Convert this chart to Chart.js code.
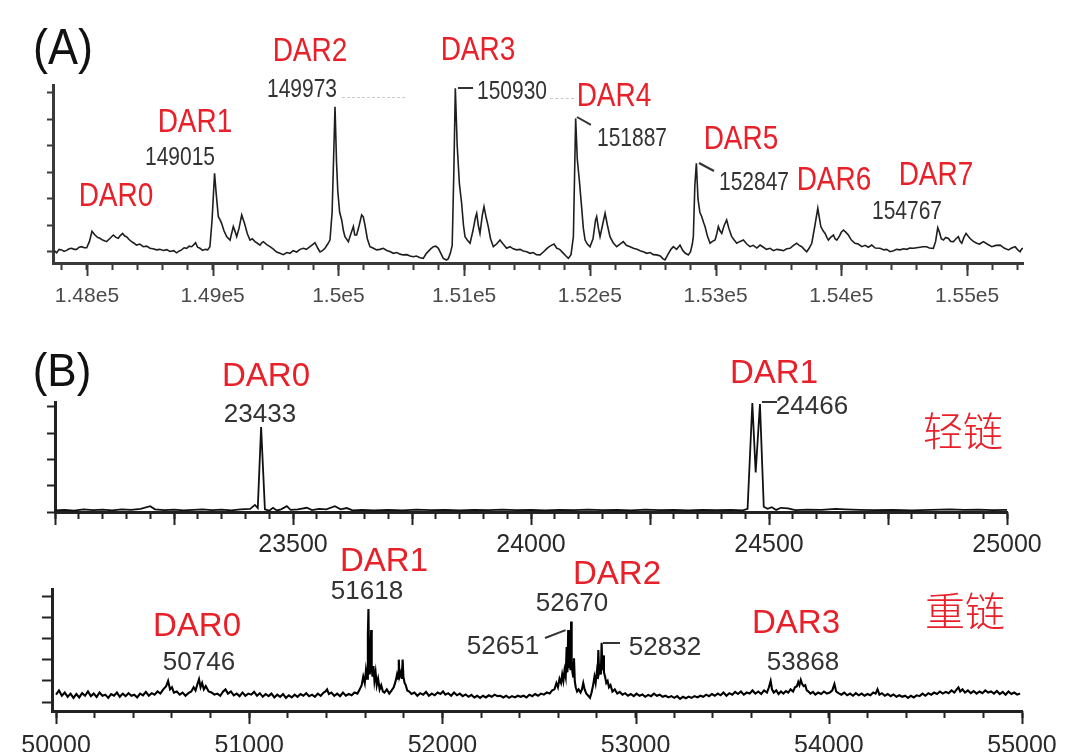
<!DOCTYPE html>
<html>
<head>
<meta charset="utf-8">
<script src="https://cdn.jsdelivr.net/npm/chart.js@4.4.1/dist/chart.umd.min.js"></script>
<style>
  html, body { margin: 0; padding: 0; background: #fff; }
  #page { position: relative; width: 1080px; height: 752px; overflow: hidden; background: #fff; }
  canvas { position: absolute; left: 0; }
  .lbl { position: absolute; white-space: nowrap; font-family: "Liberation Sans", Arial, sans-serif; line-height: 1; }
  .red { color: #e8202a; }
  .num { color: #333; }
  .blk { color: #111; }
  .cjk { font-family: "Noto Sans CJK SC", sans-serif; color: #e8202a; font-weight: 300; }
  .lead { position: absolute; height: 2px; background: #333; transform-origin: 0 50%; }
  .dash { position: absolute; border-top: 1px dashed #c8c8c8; height: 0; }
</style>
</head>
<body>
<div id="page">
  <canvas id="chartA" width="1080" height="320" style="top:0"></canvas>
  <canvas id="chartL" width="1080" height="230" style="top:330px"></canvas>
  <canvas id="chartH" width="1080" height="192" style="top:560px"></canvas>
</div>
<script>
// (A) intact ADC, deconvoluted mass (Da) vs intensity
const aMass = [147740,147759,147779,147799,147818,147838,147858,147878,147898,147918,147938,147958,147978,147998,
  148020,148040,148064,148084,148103,148125,148156,148180,148210,148230,148249,148265,148284,148300,148315,148335,
  148355,148375,148395,148420,148448,148475,148501,148525,148554,148580,148607,148635,148660,148690,148713,148735,
  148753,148773,148793,148813,148833,148850,148864,148880,148899,148920,148940,148960,148978,148995,149015,149028,
  149045,149060,149071,149090,149111,149138,149164,149180,149191,149210,149231,149245,149257,149275,149297,149315,
  149336,149356,149376,149390,149403,149430,149456,149480,149509,149535,149562,149590,149615,149640,149668,149695,
  149721,149745,149774,149795,149814,149835,149854,149873,149893,149915,149933,149950,149973,149985,149995,150010,
  150026,150040,150052,150079,150100,150119,150130,150145,150165,150185,150198,150211,150230,150251,150275,150304,
  150330,150357,150385,150410,150437,150465,150490,150516,150545,150570,150596,150620,150650,150675,150700,150730,
  150755,150775,150795,150815,150834,150860,150874,150890,150905,150918,150930,150945,150962,150980,150995,151007,
  151025,151047,151070,151090,151100,151113,151126,151145,151158,151175,151192,151210,151232,151258,151285,151310,
  151338,151365,151390,151418,151445,151470,151498,151525,151550,151575,151604,151630,151655,151677,151697,151715,
  151737,151760,151790,151810,151829,151850,151869,151887,151900,151916,151934,151948,151962,151980,152001,152025,
  152045,152054,152068,152081,152100,152121,152140,152160,152185,152213,152240,152266,152290,152320,152346,152375,
  152400,152430,152452,152480,152505,152532,152560,152580,152598,152620,152645,152664,152690,152717,152740,152760,
  152783,152800,152815,152823,152835,152847,152860,152875,152890,152905,152916,152935,152956,152975,152996,153010,
  153022,153035,153049,153068,153088,153105,153128,153148,153168,153195,153221,153248,153274,153300,153328,153354,
  153380,153405,153433,153460,153487,153513,153540,153566,153592,153620,153645,153665,153685,153705,153725,153745,
  153765,153790,153813,153825,153837,153855,153871,153885,153897,153915,153937,153950,153964,153985,154000,154017,
  154035,154056,154080,154109,154135,154163,154190,154215,154242,154270,154308,154340,154360,154388,154415,154440,
  154467,154495,154520,154545,154573,154600,154625,154650,154679,154700,154732,154750,154767,154780,154795,154812,
  154830,154852,154870,154892,154912,154931,154945,154958,154975,154992,155008,155024,155050,155077,155100,155130,
  155160,155197,155230,155263,155295,155329,155355,155382,155400,155422,155435,155445];
const aInt = [0.05,-0.03,0.1,0.08,0.02,0.06,0.12,0.14,0.1,0.1,0.18,0.2,0.16,0.16,
  0.4,0.78,0.64,0.55,0.52,0.45,0.39,0.5,0.64,0.55,0.52,0.62,0.7,0.6,0.58,0.47,
  0.39,0.33,0.26,0.3,0.2,0.22,0.14,0.12,0.08,0.1,0.06,0.09,0.02,0.05,-0.03,0.04,
  0.08,0.16,0.14,0.22,0.2,0.28,0.35,0.18,0.14,0.06,0.1,0.08,0.2,1.2,2.97,2.2,
  1.33,1.2,1.08,0.8,0.58,0.45,0.96,0.75,0.58,0.9,1.4,1.2,1.02,0.7,0.45,0.5,
  0.39,0.33,0.26,0.35,0.39,0.28,0.2,0.12,0.0,-0.05,-0.1,-0.02,-0.05,0.05,0.0,0.1,
  0.14,0.1,0.2,0.28,0.35,0.15,0.0,0.05,0.14,0.3,0.45,1.5,5.48,3.4,2.3,1.5,
  1.21,0.8,0.58,0.39,0.7,0.96,0.64,0.64,1.0,1.4,1.33,1.02,0.5,0.2,0.15,0.08,
  0.1,0.14,0.06,0.02,-0.05,-0.02,-0.08,-0.11,-0.1,-0.15,-0.18,-0.15,-0.22,-0.24,-0.05,0.1,
  0.2,0.22,0.14,-0.05,-0.24,-0.3,-0.25,-0.05,0.25,3.0,6.18,4.0,2.59,1.84,1.0,0.58,
  0.45,0.33,0.8,1.3,1.46,1.0,0.7,1.4,1.71,1.3,0.96,0.5,0.2,0.3,0.45,0.3,
  0.14,0.2,0.12,0.08,0.1,0.04,0.01,-0.05,-0.02,-0.1,-0.11,0.0,0.12,0.2,0.26,0.3,
  0.14,0.1,-0.05,-0.15,-0.24,-0.1,0.58,5.04,3.5,2.72,1.71,0.9,0.45,0.3,0.2,0.5,
  1.2,1.33,0.9,0.58,1.0,1.46,1.0,0.58,0.35,0.2,0.3,0.39,0.25,0.2,0.14,0.1,
  0.05,0.0,-0.05,-0.02,-0.1,-0.11,-0.15,-0.25,-0.3,-0.1,0.1,0.2,0.1,0.26,0.05,-0.05,
  -0.11,0.0,0.3,0.58,2.5,3.35,2.0,1.5,1.33,1.1,0.96,0.6,0.33,0.4,0.45,0.7,
  0.96,0.8,0.7,1.0,1.21,0.9,0.58,0.45,0.33,0.4,0.45,0.3,0.2,0.25,0.15,0.26,
  0.18,0.1,0.14,0.05,0.1,0.08,0.05,0.12,0.14,0.25,0.33,0.25,0.2,0.1,0.01,0.15,
  0.33,1.0,1.65,1.3,0.96,0.8,0.7,0.55,0.45,0.55,0.64,0.5,0.45,0.6,0.75,0.83,
  0.75,0.64,0.45,0.33,0.3,0.2,0.25,0.18,0.26,0.15,0.14,0.08,0.1,0.01,0.05,0.1,
  0.08,0.12,0.1,0.15,0.14,0.16,0.18,0.2,0.2,0.15,0.14,0.4,0.92,0.75,0.5,0.45,
  0.55,0.51,0.4,0.39,0.5,0.58,0.4,0.33,0.55,0.7,0.6,0.51,0.4,0.33,0.3,0.39,
  0.3,0.2,0.25,0.26,0.15,0.08,0.15,0.2,0.1,0.01,0.12,0.14];

// (B) light chain
const lcMass = [23000,23020,23040,23060,23080,23100,23120,23140,23160,23180,23200,23210,23230,23250,23270,23290,
  23310,23330,23350,23370,23390,23410,23420,23426,23433,23441,23450,23458,23466,23475,23487,23495,
  23510,23529,23540,23555,23570,23588,23600,23613,23625,23645,23670,23700,23730,23760,23790,23820,
  23850,23880,23910,23940,23970,24000,24030,24060,24090,24120,24150,24180,24210,24240,24270,24300,
  24330,24360,24390,24420,24445,24455,24465,24472,24481,24489,24497,24506,24515,24525,24540,24555,
  24580,24610,24640,24660,24690,24720,24760,24800,24840,24880,24910,24940,24970,25000];
const lcInt = [0.06,0.08,0.05,0.1,0.07,0.09,0.06,0.1,0.08,0.12,0.22,0.1,0.07,0.09,0.06,0.08,
  0.1,0.07,0.09,0.06,0.1,0.12,0.27,0.15,3.23,0.1,0.05,0.16,0.06,0.1,0.22,0.08,
  0.1,0.16,0.07,0.12,0.1,0.22,0.1,0.15,0.06,0.08,0.06,0.08,0.06,0.09,0.07,0.08,
  0.06,0.08,0.07,0.09,0.07,0.08,0.06,0.08,0.07,0.09,0.07,0.08,0.06,0.09,0.07,0.08,
  0.06,0.08,0.07,0.08,0.06,0.12,4.14,1.5,4.1,0.2,0.12,0.18,0.08,0.16,0.14,0.07,
  0.09,0.08,0.12,0.1,0.08,0.07,0.08,0.06,0.08,0.1,0.08,0.09,0.07,0.08];

// (B) heavy chain
const hcMass = [50000,50015,50030,50045,50060,50075,50090,50105,50120,50135,50150,50165,50180,50195,50210,50225,
  50240,50255,50270,50285,50300,50315,50330,50345,50360,50375,50390,50405,50420,50435,50450,50465,
  50480,50495,50510,50525,50540,50555,50570,50580,50590,50600,50610,50625,50640,50655,50670,50685,
  50700,50712,50722,50732,50740,50748,50756,50765,50775,50790,50805,50820,50835,50850,50865,50877,
  50890,50905,50920,50935,50950,50965,50980,50995,51010,51025,51040,51055,51070,51085,51100,51115,
  51130,51145,51160,51175,51190,51205,51220,51235,51250,51265,51280,51295,51310,51325,51340,51355,
  51370,51385,51395,51403,51412,51425,51440,51455,51470,51485,51500,51515,51530,51545,51560,51572,
  51582,51590,51598,51604,51610,51614,51617,51620,51624,51628,51631,51634,51638,51643,51648,51654,
  51660,51667,51675,51683,51692,51700,51712,51725,51737,51748,51758,51765,51770,51774,51778,51785,
  51790,51794,51798,51804,51810,51818,51828,51840,51855,51870,51885,51900,51915,51930,51945,51960,
  51975,51990,52003,52015,52030,52045,52060,52075,52090,52105,52120,52135,52150,52165,52180,52195,
  52210,52225,52240,52255,52270,52285,52300,52315,52330,52345,52360,52375,52390,52405,52420,52435,
  52450,52465,52480,52495,52510,52525,52540,52555,52568,52580,52590,52598,52606,52614,52620,52626,
  52632,52638,52643,52647,52651,52655,52660,52663,52666,52669,52673,52677,52681,52685,52690,52697,
  52705,52715,52722,52729,52736,52745,52755,52764,52772,52780,52787,52793,52799,52803,52807,52811,
  52816,52820,52824,52828,52832,52836,52842,52848,52855,52862,52870,52880,52892,52905,52918,52932,
  52946,52960,52975,52990,53005,53020,53035,53050,53065,53080,53095,53110,53125,53140,53155,53170,
  53185,53200,53215,53230,53245,53260,53275,53290,53305,53320,53335,53350,53365,53380,53395,53410,
  53425,53440,53455,53470,53485,53500,53515,53530,53545,53560,53575,53590,53605,53620,53635,53650,
  53665,53680,53690,53699,53706,53715,53728,53740,53752,53765,53778,53790,53802,53815,53825,53835,
  53842,53848,53855,53862,53870,53878,53886,53895,53905,53918,53930,53945,53960,53975,53990,54005,
  54018,54029,54038,54050,54065,54080,54095,54110,54125,54140,54155,54170,54185,54200,54215,54230,
  54242,54252,54262,54275,54290,54305,54320,54335,54350,54365,54380,54395,54410,54425,54440,54455,
  54470,54485,54500,54515,54530,54545,54560,54575,54590,54605,54620,54635,54650,54662,54671,54680,
  54692,54705,54720,54735,54750,54765,54780,54795,54810,54825,54840,54855,54870,54885,54900,54915,
  54930,54945,54960,54975,54990];
const hcInt = [0.35,0.55,0.3,0.45,0.25,0.4,0.2,0.38,0.22,0.42,0.3,0.5,0.28,0.4,0.24,0.45,
  0.3,0.35,0.2,0.38,0.3,0.45,0.25,0.4,0.28,0.42,0.3,0.35,0.22,0.4,0.32,0.48,
  0.3,0.42,0.35,0.5,0.4,0.6,0.75,1.0,0.6,0.7,0.45,0.5,0.35,0.45,0.3,0.42,
  0.5,0.7,0.55,0.85,1.08,0.7,0.9,0.6,0.75,0.5,0.45,0.35,0.4,0.3,0.5,0.6,
  0.4,0.5,0.32,0.4,0.28,0.45,0.3,0.4,0.35,0.48,0.3,0.42,0.25,0.38,0.28,0.4,
  0.22,0.35,0.25,0.38,0.2,0.32,0.22,0.35,0.25,0.38,0.3,0.42,0.28,0.35,0.25,0.4,
  0.3,0.45,0.5,0.6,0.38,0.45,0.3,0.4,0.28,0.45,0.3,0.38,0.32,0.45,0.4,0.6,
  0.8,1.2,0.9,1.5,1.1,3.2,4.39,2.0,1.3,2.3,3.4,1.6,1.2,1.7,1.0,1.4,
  0.8,1.1,0.6,0.8,0.5,0.45,0.6,0.4,0.55,0.7,1.0,1.3,1.1,2.0,1.2,1.4,
  1.1,2.0,1.2,0.9,0.8,0.55,0.5,0.38,0.45,0.3,0.42,0.35,0.48,0.3,0.4,0.32,
  0.45,0.38,0.5,0.35,0.42,0.3,0.45,0.32,0.4,0.28,0.36,0.25,0.34,0.22,0.3,0.2,
  0.3,0.22,0.32,0.25,0.35,0.28,0.3,0.22,0.3,0.2,0.28,0.22,0.3,0.25,0.3,0.22,
  0.35,0.28,0.38,0.3,0.4,0.35,0.45,0.4,0.55,0.6,0.9,0.7,1.1,0.9,1.3,1.0,
  1.5,1.2,2.6,1.4,3.4,1.6,2.0,1.5,3.8,2.0,1.4,1.2,2.07,1.0,0.7,0.5,
  0.6,0.45,0.6,0.9,0.6,0.4,0.3,0.2,0.45,0.8,1.2,0.9,1.4,1.1,2.45,1.4,
  1.6,1.3,2.8,1.5,2.2,1.4,1.2,0.9,1.0,0.7,0.8,0.5,0.6,0.4,0.48,0.35,
  0.42,0.3,0.38,0.28,0.4,0.3,0.36,0.25,0.34,0.28,0.4,0.3,0.35,0.25,0.3,0.22,
  0.28,0.2,0.28,0.15,0.25,0.18,0.26,0.2,0.28,0.22,0.3,0.25,0.35,0.28,0.38,0.3,
  0.4,0.32,0.45,0.3,0.42,0.35,0.48,0.38,0.5,0.35,0.45,0.4,0.55,0.4,0.5,0.38,
  0.55,0.45,0.7,1.0,0.6,0.45,0.55,0.38,0.5,0.4,0.52,0.45,0.6,0.5,0.7,0.75,
  0.95,0.8,1.04,0.85,0.75,0.8,0.55,0.5,0.4,0.48,0.35,0.45,0.38,0.5,0.4,0.45,
  0.55,0.85,0.5,0.42,0.35,0.45,0.32,0.4,0.3,0.42,0.32,0.4,0.3,0.38,0.32,0.45,
  0.4,0.6,0.35,0.42,0.3,0.38,0.28,0.36,0.25,0.32,0.25,0.3,0.2,0.3,0.22,0.32,
  0.28,0.4,0.3,0.42,0.35,0.45,0.38,0.5,0.4,0.48,0.42,0.55,0.45,0.6,0.69,0.5,
  0.6,0.45,0.55,0.42,0.52,0.4,0.5,0.42,0.55,0.45,0.5,0.4,0.52,0.38,0.48,0.35,
  0.5,0.38,0.45,0.35,0.4];

// axis settings
const aYTicks = [0, 1, 2, 3, 4, 5, 6];
const lcYTicks = [0, 1, 2, 3, 4];
const hcYTicks = [0, 1, 2, 3, 4, 5];

// longer tick marks at major positions
const majorTicks = {
  id: 'majorTicks',
  afterDraw(chart, args, opts) {
    const x = chart.scales.x, ctx = chart.ctx;
    const y0 = chart.chartArea.bottom;
    ctx.save();
    ctx.strokeStyle = opts.color;
    ctx.lineWidth = opts.width;
    for (let v = Math.ceil(x.min / opts.step) * opts.step; v <= x.max; v += opts.step) {
      const px = Math.round(x.getPixelForValue(v)) + 0.5;
      ctx.beginPath();
      ctx.moveTo(px, y0);
      ctx.lineTo(px, y0 + opts.len);
      ctx.stroke();
    }
    ctx.restore();
  }
};

function spectrum(id, masses, ints, o) {
  const axisColor = o.axis;
  return new Chart(document.getElementById(id), {
    type: 'line',
    data: {
      datasets: [{
        data: masses.map((m, i) => ({ x: m, y: ints[i] })),
        borderColor: o.line,
        borderWidth: o.lw,
        pointRadius: 0,
        tension: 0,
        fill: false
      }]
    },
    options: {
      responsive: false,
      animation: false,
      devicePixelRatio: 1,
      layout: { padding: { top: o.top, right: o.right, left: 0, bottom: 0 } },
      plugins: {
        legend: { display: false },
        tooltip: { enabled: false },
        majorTicks: { step: o.majorStep, len: o.majorLen, color: axisColor, width: 2 }
      },
      scales: {
        x: {
          type: 'linear',
          min: o.xmin,
          max: o.xmax,
          afterBuildTicks: s => {
            const t = [];
            for (let v = Math.ceil(o.xmin / o.minorStep) * o.minorStep; v <= o.xmax; v += o.minorStep) t.push({ value: v });
            s.ticks = t;
          },
          afterFit: s => { s.height = o.xh; },
          ticks: {
            autoSkip: false,
            maxRotation: 0,
            padding: o.tickPad,
            color: o.tickColor,
            font: { family: 'Liberation Sans', size: o.tickSize },
            callback: v => (v % o.labelStep === 0 && !(o.skipFirst && v === o.xmin) ? o.fmt(v) : '')
          },
          grid: { drawOnChartArea: false, drawTicks: true, tickLength: o.minorLen, tickColor: axisColor, tickWidth: 2 },
          border: { color: axisColor, width: 3 }
        },
        y: {
          min: o.ymin,
          max: o.ymax,
          afterBuildTicks: s => { s.ticks = o.yTicks.map(v => ({ value: v })); },
          afterFit: s => { s.width = o.yw; },
          ticks: { display: false },
          grid: { drawOnChartArea: false, drawTicks: true, tickLength: o.yTickLen, tickColor: axisColor, tickWidth: 2 },
          border: { color: axisColor, width: 3 }
        }
      }
    },
    plugins: [majorTicks]
  });
}

spectrum('chartA', aMass, aInt, {
  xmin: 147730, xmax: 155445, ymin: -0.415, ymax: 6.3, yTicks: aYTicks,
  top: 85, right: 57, yw: 53, xh: 57,
  minorStep: 200, majorStep: 1000, labelStep: 1000, minorLen: 7, majorLen: 13, yTickLen: 6,
  tickPad: 14, tickSize: 21, tickColor: '#4a4a4a',
  fmt: v => parseFloat((v / 1e5).toFixed(2)) + 'e5',
  line: '#1e1e1e', lw: 1.6, axis: '#3a3a3a'
});

spectrum('chartL', lcMass, lcInt, {
  xmin: 23000, xmax: 25000, ymin: 0, ymax: 4.18, yTicks: lcYTicks, skipFirst: true,
  top: 72, right: 73, yw: 55, xh: 48,
  minorStep: 50, majorStep: 250, labelStep: 500, minorLen: 7, majorLen: 13, yTickLen: 8,
  tickPad: 11, tickSize: 25, tickColor: '#2a2a2a',
  fmt: v => String(v),
  line: '#111', lw: 1.8, axis: '#222'
});

spectrum('chartH', hcMass, hcInt, {
  xmin: 49979, xmax: 55000, ymin: -0.42, ymax: 5.33, yTicks: hcYTicks,
  top: 29, right: 58, yw: 52, xh: 41,
  minorStep: 200, majorStep: 1000, labelStep: 1000, minorLen: 7, majorLen: 13, yTickLen: 10,
  tickPad: 13, tickSize: 25, tickColor: '#2a2a2a',
  fmt: v => String(v),
  line: '#000', lw: 2.1, axis: '#222'
});

// annotations
const page = document.getElementById('page');
function label(text, cls, x, y, size, sy) {
  const d = document.createElement('div');
  d.className = 'lbl ' + cls;
  d.textContent = text;
  d.style.left = x + 'px';
  d.style.top = y + 'px';
  d.style.fontSize = size + 'px';
  d.style.transform = 'translate(-50%, -50%) scale(1, ' + (sy || 1) + ')';
  page.appendChild(d);
}
function leader(x1, y1, x2, y2) {
  const d = document.createElement('div');
  d.className = 'lead';
  const len = Math.hypot(x2 - x1, y2 - y1);
  d.style.left = x1 + 'px';
  d.style.top = (y1 - 1) + 'px';
  d.style.width = len + 'px';
  d.style.transform = 'rotate(' + Math.atan2(y2 - y1, x2 - x1) + 'rad)';
  page.appendChild(d);
}
function dash(x1, x2, y) {
  const d = document.createElement('div');
  d.className = 'dash';
  d.style.left = x1 + 'px';
  d.style.top = y + 'px';
  d.style.width = (x2 - x1) + 'px';
  page.appendChild(d);
}

// panel A
label('(A)', 'blk', 63, 47, 45, 1.12);
label('DAR0', 'red', 116, 195, 28, 1.18);
label('DAR1', 'red', 195, 121, 28, 1.18);
label('149015', 'num', 180, 156, 21, 1.2);
label('DAR2', 'red', 310, 50, 28, 1.18);
label('149973', 'num', 302, 88, 21, 1.2);
label('DAR3', 'red', 478, 49, 28, 1.18);
label('150930', 'num', 512, 90, 21, 1.2);
label('DAR4', 'red', 614, 95, 28, 1.18);
label('151887', 'num', 632, 137, 21, 1.2);
label('DAR5', 'red', 741, 138, 28, 1.18);
label('152847', 'num', 754, 181, 21, 1.2);
label('DAR6', 'red', 834, 179, 28, 1.18);
label('DAR7', 'red', 936, 174, 28, 1.18);
label('154767', 'num', 907, 210, 21, 1.2);
leader(458, 88, 473, 88);
leader(577, 117, 591, 125);
leader(699, 163, 714, 171);
dash(342, 405, 97);
dash(550, 574, 98);

// panel B light chain
label('(B)', 'blk', 62, 370, 44, 1.05);
label('DAR0', 'red', 266, 374, 33, 1);
label('23433', 'num', 260, 413, 26, 1);
label('DAR1', 'red', 774, 371, 33, 1);
label('24466', 'num', 812, 405, 26, 1);
leader(762, 402, 777, 402);
label('轻链', 'cjk', 963, 429, 40, 1);

// panel B heavy chain
label('DAR1', 'red', 384, 559, 33, 1);
label('51618', 'num', 367, 590, 26, 1);
label('DAR0', 'red', 197, 624, 33, 1);
label('50746', 'num', 199, 661, 26, 1);
label('DAR2', 'red', 617, 572, 33, 1);
label('52670', 'num', 572, 602, 26, 1);
label('52651', 'num', 503, 645, 26, 1);
leader(545, 638, 566, 630);
label('52832', 'num', 665, 646, 26, 1);
leader(603, 643, 620, 643);
label('DAR3', 'red', 796, 621, 33, 1);
label('53868', 'num', 803, 661, 26, 1);
label('重链', 'cjk', 965, 609, 40, 1);
</script>
</body>
</html>
